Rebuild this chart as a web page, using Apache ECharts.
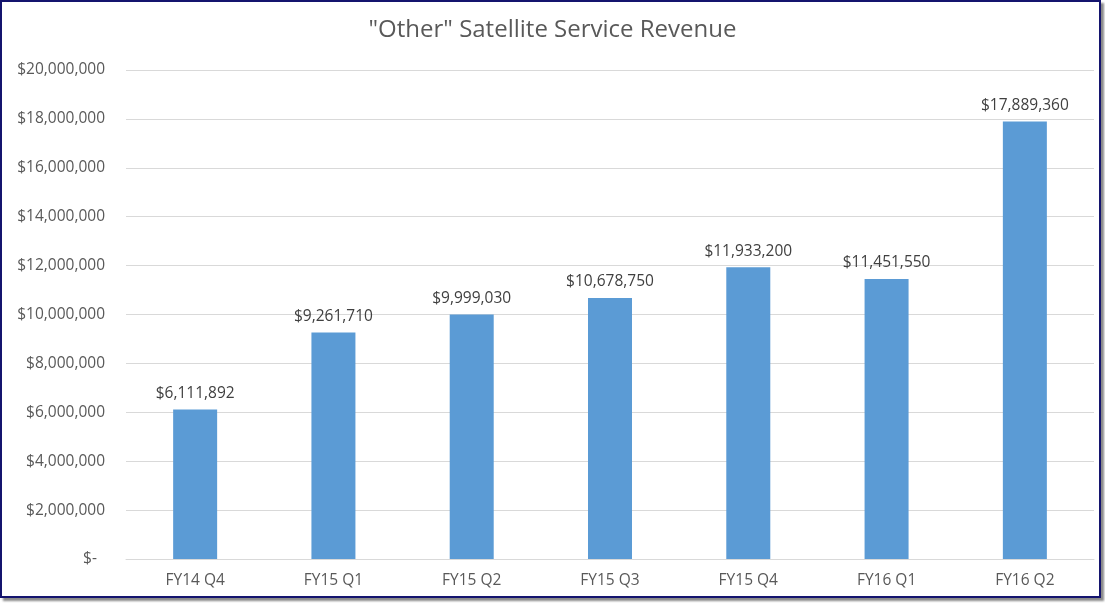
<!DOCTYPE html>
<html>
<head>
<meta charset="utf-8">
<script src="https://cdn.jsdelivr.net/npm/echarts@6/dist/echarts.min.js"></script>
<style>
  html, body { margin: 0; padding: 0; background: #fff; }
  #chart { position: absolute; left: 0; top: 0; width: 1105px; height: 603px; }
  #frame {
    position: absolute; left: 0; top: 0; width: 1101px; height: 598px;
    box-sizing: border-box; border: 2px solid #14146e;
    box-shadow: 3px 3px 2px #8a8a8a; pointer-events: none;
  }
</style>
</head>
<body>
<div id="chart"></div>
<div id="frame"></div>
<script>
var categories = ['FY14 Q4', 'FY15 Q1', 'FY15 Q2', 'FY15 Q3', 'FY15 Q4', 'FY16 Q1', 'FY16 Q2'];
var revenue = [6111892, 9261710, 9999030, 10678750, 11933200, 11451550, 17889360];

function money(v) {
	if (v === 0) return '$-  ';
	return '$' + v.toLocaleString('en-US');
}

var myChart = echarts.init(document.getElementById('chart'));

var option = {
	backgroundColor: '#fff',
	textStyle: { fontFamily: 'Open Sans' },
	title: {
		text: '"Other" Satellite Service Revenue',
		left: 'center',
		top: 13,
		textStyle: { fontSize: 24, fontWeight: 'normal', color: '#595959' }
	},
	grid: { left: 126, right: 11, top: 70, bottom: 44 },
	xAxis: {
		type: 'category',
		data: categories,
		axisLine: { lineStyle: { color: '#d9d9d9' } },
		axisTick: { show: false },
		axisLabel: { color: '#595959', fontSize: 15.5, margin: 14 }
	},
	yAxis: {
		type: 'value',
		min: 0,
		max: 20000000,
		interval: 2000000,
		axisLine: { show: false },
		axisTick: { show: false },
		splitLine: { lineStyle: { color: '#d9d9d9', width: 1 } },
		axisLabel: { color: '#595959', fontSize: 15.5, margin: 21, formatter: money }
	},
	series: [
		{
			type: 'bar',
			data: revenue,
			barWidth: 44,
			itemStyle: { color: '#5b9bd5' },
			label: {
				show: true,
				position: 'top',
				distance: 8,
				color: '#404040',
				fontSize: 15.5,
				formatter: function (p) { return money(p.value); }
			}
		}
	]
};

myChart.setOption(option);
</script>
</body>
</html>
